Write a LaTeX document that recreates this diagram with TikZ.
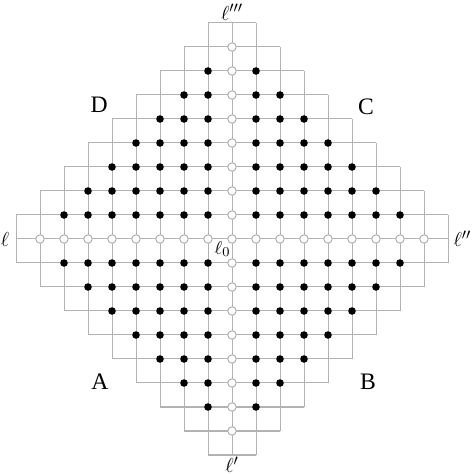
\documentclass[tikz,border=0pt]{standalone}
\usepackage{fontspec}
\setmainfont{Liberation Serif}
\usepackage{tikz}
\tikzset{
  gridline/.style={draw=black!30, line width=0.6pt},
  fulldot/.style={circle, fill=black, inner sep=0pt, minimum size=4.5pt},
  opendot/.style={circle, draw=black!35, fill=white, inner sep=0pt, minimum size=5pt, line width=0.5pt},
  corner/.style={font=\fontsize{14}{16}\selectfont},
  axis/.style={font=\fontsize{13}{15}\selectfont, inner sep=0pt},
}

\begin{document}
\begin{tikzpicture}[x=0.5cm, y=0.5cm]
        \useasboundingbox (-9.667,-9.792) rectangle (10.083,9.958);

        % grid
        \foreach \r in {-9,...,9} {
            \pgfmathtruncatemacro\L{min(9,10-abs(\r))}
            \draw[gridline] (-\L,\r) -- (\L,\r);
            \draw[gridline] (\r,-\L) -- (\r,\L);
        }

        % lattice points
        \foreach \j in {-8,...,8} {
            \foreach \r in {-8,...,8} {
                \pgfmathtruncatemacro\s{abs(\j)+abs(\r)}
                \pgfmathtruncatemacro\p{\j*\r}
                \ifnum\s<9
                    \ifnum\p=0
                        \node[opendot] at (\j,\r) (d-\j-\r) {};
                    \else
                        \node[fulldot] at (\j,\r) (d-\j-\r) {};
                    \fi
                \fi
            }
        }

        \node[axis] at (-9.46, 0)    (l)   {$\ell$};
        \node[axis] at (0, -9.4)     (l1)  {$\ell'$};
        \node[axis] at (9.6, 0)      (l2)  {$\ell''$};
        \node[axis] at (0, 9.45)     (l3)  {$\ell'''$};
        \node[font=\fontsize{11}{13}\selectfont] at (-0.4, -0.42) (l0) {$\ell_0$};

        \node[corner] at (-5.5, -5.96) (A) {A};
        \node[corner] at (5.67, -5.96) (B) {B};
        \node[corner] at (5.58, 5.5)   (C) {C};
        \node[corner] at (-5.54, 5.58) (D) {D};
    \end{tikzpicture}
\end{document}
